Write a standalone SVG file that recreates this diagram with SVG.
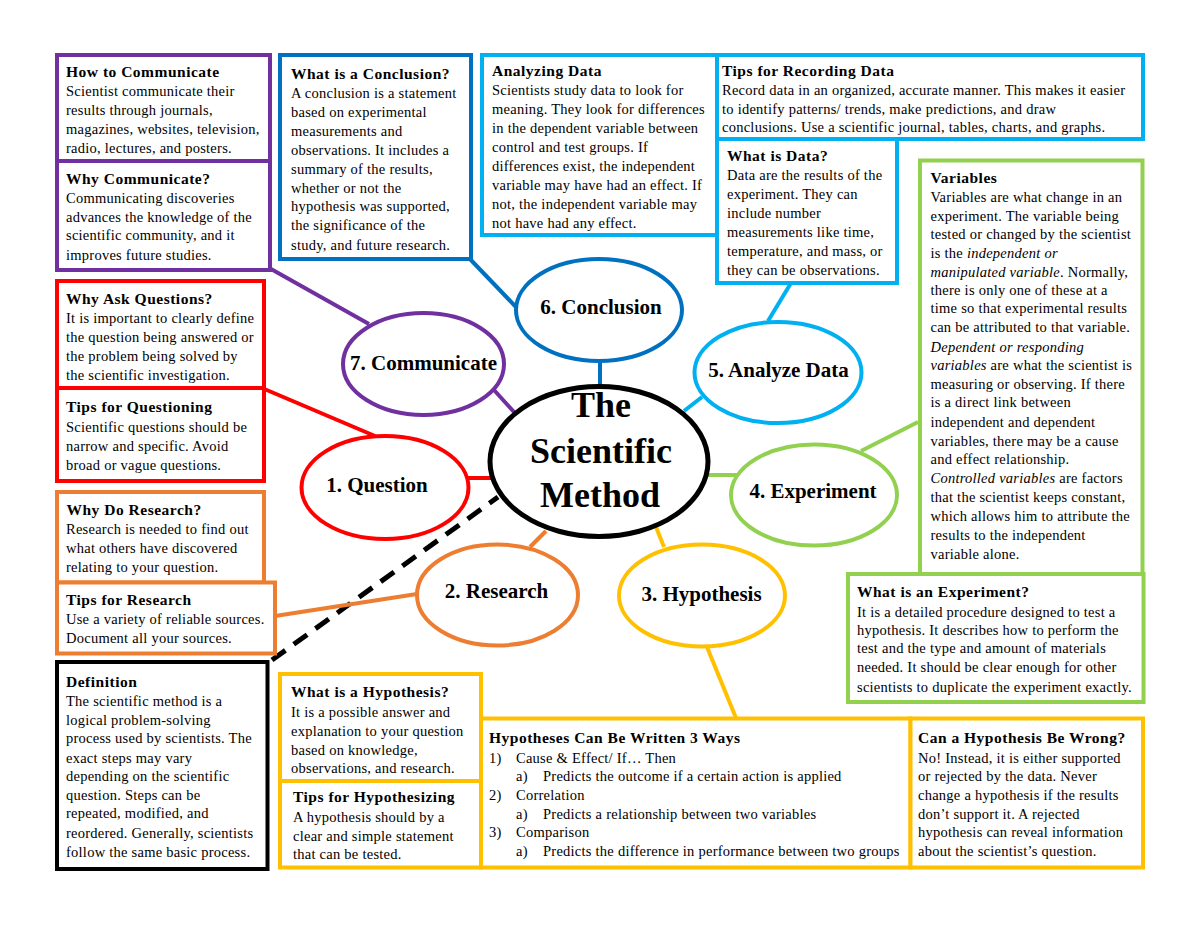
<svg xmlns="http://www.w3.org/2000/svg" width="1200" height="927" viewBox="0 0 1200 927">
<style>
text{font-family:"Liberation Serif","Times New Roman",serif;font-size:14.5px;letter-spacing:.25px;fill:#000}
.h{font-weight:bold;font-size:15.5px;letter-spacing:.5px}
.i{font-style:italic}
.n{font-weight:bold;font-size:21px;letter-spacing:0;text-anchor:middle}
.t{font-weight:bold;font-size:36px;letter-spacing:0;text-anchor:middle}
rect{fill:#fff;stroke-width:4}
ellipse{fill:#fff;stroke-width:4}
.c{fill:none;stroke-width:4}
.p{stroke:#7030a0}.d{stroke:#0070c0}.b{stroke:#00b0f0}.g{stroke:#92d050}.r{stroke:#f00}.o{stroke:#ed7d31}.y{stroke:#ffc000}.k{stroke:#000}
</style>
<rect width="1200" height="927" style="fill:#fff;stroke:none"/>
<g id="connectors">
<path class="c k" style="stroke-width:5" stroke-dasharray="16.5 10.3" d="M272 660L498 497"/>
<path class="c p" d="M271 269L369 324"/>
<path class="c p" d="M494 390L514 412"/>
<path class="c d" d="M469 258L516 307"/>
<path class="c d" d="M600 360V386"/>
<path class="c b" d="M791 283L768 321"/>
<path class="c b" d="M702 397L684 411"/>
<path class="c g" d="M918 422L861 451"/>
<path class="c g" d="M708 475H737"/>
<path class="c r" d="M262 388L375 436"/>
<path class="c r" d="M468 478H491"/>
<path class="c o" d="M275 616L417 594"/>
<path class="c o" d="M530 547L546 531"/>
<path class="c y" d="M707 647L736 718"/>
<path class="c y" d="M664 547L656 527"/>
</g>
<g id="n-center"><ellipse class="k" style="stroke-width:5" cx="599" cy="461.5" rx="109" ry="75"/><text class="t" x="601" y="417">The</text><text class="t" x="601" y="463">Scientific</text><text class="t" x="600" y="507">Method</text></g>
<g id="n6"><ellipse class="d" cx="599" cy="310" rx="83" ry="51"/><text class="n" x="601" y="314">6. Conclusion</text></g>
<g id="n7"><ellipse class="p" cx="423.5" cy="364" rx="80.5" ry="51"/><text class="n" x="423.5" y="370">7. Communicate</text></g>
<g id="n5"><ellipse class="b" cx="778" cy="372.5" rx="83.5" ry="50.5"/><text class="n" x="778.5" y="377">5. Analyze Data</text></g>
<g id="n1"><ellipse class="r" cx="385" cy="487.5" rx="83.5" ry="51.5"/><text class="n" x="377" y="492">1. Question</text></g>
<g id="n4"><ellipse class="g" cx="814" cy="495" rx="83" ry="50.5"/><text class="n" x="813" y="498">4. Experiment</text></g>
<g id="n2"><ellipse class="o" cx="497.5" cy="595" rx="80.5" ry="50.5"/><text class="n" x="496.5" y="598">2. Research</text></g>
<g id="n3"><ellipse class="y" cx="702" cy="595.5" rx="83" ry="51"/><text class="n" x="701.5" y="601">3. Hypothesis</text></g>

<g id="how"><rect class="p" x="57" y="55" width="213" height="106"/><text class="h" x="66" y="77">How to Communicate</text><text x="66" y="96">Scientist communicate their</text><text x="66" y="115">results through journals,</text><text x="66" y="133.5">magazines, websites, television,</text><text x="66" y="152.5">radio, lectures, and posters.</text></g>
<g id="why-comm"><rect class="p" x="57" y="161" width="213" height="109"/><text class="h" x="66" y="184">Why Communicate?</text><text x="66" y="203">Communicating discoveries</text><text x="66" y="221.5">advances the knowledge of the</text><text x="66" y="240">scientific community, and it</text><text x="66" y="259.5">improves future studies.</text></g>
<g id="concl"><rect class="d" x="280" y="55" width="191" height="204"/><text class="h" x="291" y="79">What is a Conclusion?</text><text x="291" y="98">A conclusion is a statement</text><text x="291" y="117">based on experimental</text><text x="291" y="136">measurements and</text><text x="291" y="155">observations. It includes a</text><text x="291" y="174">summary of the results,</text><text x="291" y="192.5">whether or not the</text><text x="291" y="211">hypothesis was supported,</text><text x="291" y="230">the significance of the</text><text x="291" y="250">study, and future research.</text></g>
<g id="analyzing"><rect class="b" x="482" y="55" width="235" height="180"/><text class="h" x="492" y="76">Analyzing Data</text><text x="492" y="95">Scientists study data to look for</text><text x="492" y="114">meaning. They look for differences</text><text x="492" y="133">in the dependent variable between</text><text x="492" y="152">control and test groups. If</text><text x="492" y="171">differences exist, the independent</text><text x="492" y="190">variable may have had an effect. If</text><text x="492" y="209">not, the independent variable may</text><text x="492" y="228">not have had any effect.</text></g>
<g id="tips-rec"><rect class="b" x="717" y="55" width="426" height="84"/><text class="h" x="722" y="76">Tips for Recording Data</text><text x="722" y="95">Record data in an organized, accurate manner. This makes it easier</text><text x="722" y="114">to identify patterns/ trends, make predictions, and draw</text><text x="722" y="132">conclusions. Use a scientific journal, tables, charts, and graphs.</text></g>
<g id="data"><rect class="b" x="717" y="139" width="180" height="144"/><text class="h" x="727" y="161">What is Data?</text><text x="727" y="180">Data are the results of the</text><text x="727" y="199">experiment. They can</text><text x="727" y="218">include number</text><text x="727" y="237">measurements like time,</text><text x="727" y="256">temperature, and mass, or</text><text x="727" y="275">they can be observations.</text></g>
<g id="vars"><rect class="g" x="920" y="160.5" width="222.5" height="414"/><text class="h" x="930.5" y="182.5">Variables</text><text x="930.5" y="201.7">Variables are what change in an</text><text x="930.5" y="220.7">experiment. The variable being</text><text x="930.5" y="239">tested or changed by the scientist</text><text x="930.5" y="258">is the <tspan class="i">independent or</tspan></text><text x="930.5" y="276.7"><tspan class="i">manipulated variable</tspan>. Normally,</text><text x="930.5" y="295">there is only one of these at a</text><text x="930.5" y="313">time so that experimental results</text><text x="930.5" y="332">can be attributed to that variable.</text><text x="930.5" y="351.7" class="i">Dependent or responding</text><text x="930.5" y="370"><tspan class="i">variables</tspan> are what the scientist is</text><text x="930.5" y="389">measuring or observing. If there</text><text x="930.5" y="407">is a direct link between</text><text x="930.5" y="426.7">independent and dependent</text><text x="930.5" y="445.7">variables, there may be a cause</text><text x="930.5" y="464">and effect relationship.</text><text x="930.5" y="483.3"><tspan class="i">Controlled variables</tspan> are factors</text><text x="930.5" y="502">that the scientist keeps constant,</text><text x="930.5" y="521">which allows him to attribute the</text><text x="930.5" y="540">results to the independent</text><text x="930.5" y="559">variable alone.</text></g>
<g id="exp"><rect class="g" x="848" y="574" width="295.5" height="128"/><text class="h" x="857" y="597">What is an Experiment?</text><text x="857" y="616.5">It is a detailed procedure designed to test a</text><text x="857" y="635">hypothesis. It describes how to perform the</text><text x="857" y="653">test and the type and amount of materials</text><text x="857" y="672">needed. It should be clear enough for other</text><text x="857" y="691.5">scientists to duplicate the experiment exactly.</text></g>
<g id="why-ask"><rect class="r" x="57" y="281" width="207" height="107"/><text class="h" x="66" y="304">Why Ask Questions?</text><text x="66" y="323">It is important to clearly define</text><text x="66" y="342">the question being answered or</text><text x="66" y="361">the problem being solved by</text><text x="66" y="380">the scientific investigation.</text></g>
<g id="tips-q"><rect class="r" x="57" y="388" width="207" height="93"/><text class="h" x="66" y="412">Tips for Questioning</text><text x="66" y="432">Scientific questions should be</text><text x="66" y="451">narrow and specific. Avoid</text><text x="66" y="470">broad or vague questions.</text></g>
<g id="why-res"><rect class="o" x="57" y="492" width="207" height="90.5"/><text class="h" x="66.5" y="514.5">Why Do Research?</text><text x="66" y="533.5">Research is needed to find out</text><text x="66" y="552.5">what others have discovered</text><text x="66" y="571.5">relating to your question.</text></g>
<g id="tips-res"><rect class="o" x="57" y="582.5" width="218" height="71"/><text class="h" x="66" y="605">Tips for Research</text><text x="66" y="624">Use a variety of reliable sources.</text><text x="66" y="643">Document all your sources.</text></g>
<g id="def"><rect class="k" x="57" y="662" width="210.5" height="207"/><text class="h" x="66" y="686.5">Definition</text><text x="66" y="705.5">The scientific method is a</text><text x="66" y="725">logical problem-solving</text><text x="66" y="743">process used by scientists. The</text><text x="66" y="762.5">exact steps may vary</text><text x="66" y="781">depending on the scientific</text><text x="66" y="800">question. Steps can be</text><text x="66" y="818">repeated, modified, and</text><text x="66" y="837.5">reordered. Generally, scientists</text><text x="66" y="856.5">follow the same basic process.</text></g>
<g id="what-hyp"><rect class="y" x="280" y="674" width="201" height="107"/><text class="h" x="291" y="697">What is a Hypothesis?</text><text x="291" y="717">It is a possible answer and</text><text x="291" y="736">explanation to your question</text><text x="291" y="755">based on knowledge,</text><text x="291" y="773">observations, and research.</text></g>
<g id="tips-hyp"><rect class="y" x="280" y="781" width="201" height="86.5"/><text class="h" x="293" y="802">Tips for Hypothesizing</text><text x="293" y="822">A hypothesis should by a</text><text x="293" y="841">clear and simple statement</text><text x="293" y="859">that can be tested.</text></g>
<g id="ways"><rect class="y" x="481" y="718.5" width="429.5" height="149"/><text class="h" x="489" y="743">Hypotheses Can Be Written 3 Ways</text><text x="489" y="763">1)</text><text x="516" y="763">Cause &amp; Effect/ If… Then</text><text x="516" y="781">a)</text><text x="543" y="781">Predicts the outcome if a certain action is applied</text><text x="489" y="800">2)</text><text x="516" y="800">Correlation</text><text x="516" y="819">a)</text><text x="543" y="819">Predicts a relationship between two variables</text><text x="489" y="837">3)</text><text x="516" y="837">Comparison</text><text x="516" y="856">a)</text><text x="543" y="856">Predicts the difference in performance between two groups</text></g>
<g id="wrong"><rect class="y" x="910.5" y="718.5" width="232.5" height="149"/><text class="h" x="918" y="743">Can a Hypothesis Be Wrong?</text><text x="918" y="763">No! Instead, it is either supported</text><text x="918" y="781">or rejected by the data. Never</text><text x="918" y="800">change a hypothesis if the results</text><text x="918" y="819">don’t support it. A rejected</text><text x="918" y="837">hypothesis can reveal information</text><text x="918" y="856">about the scientist’s question.</text></g>
</svg>
